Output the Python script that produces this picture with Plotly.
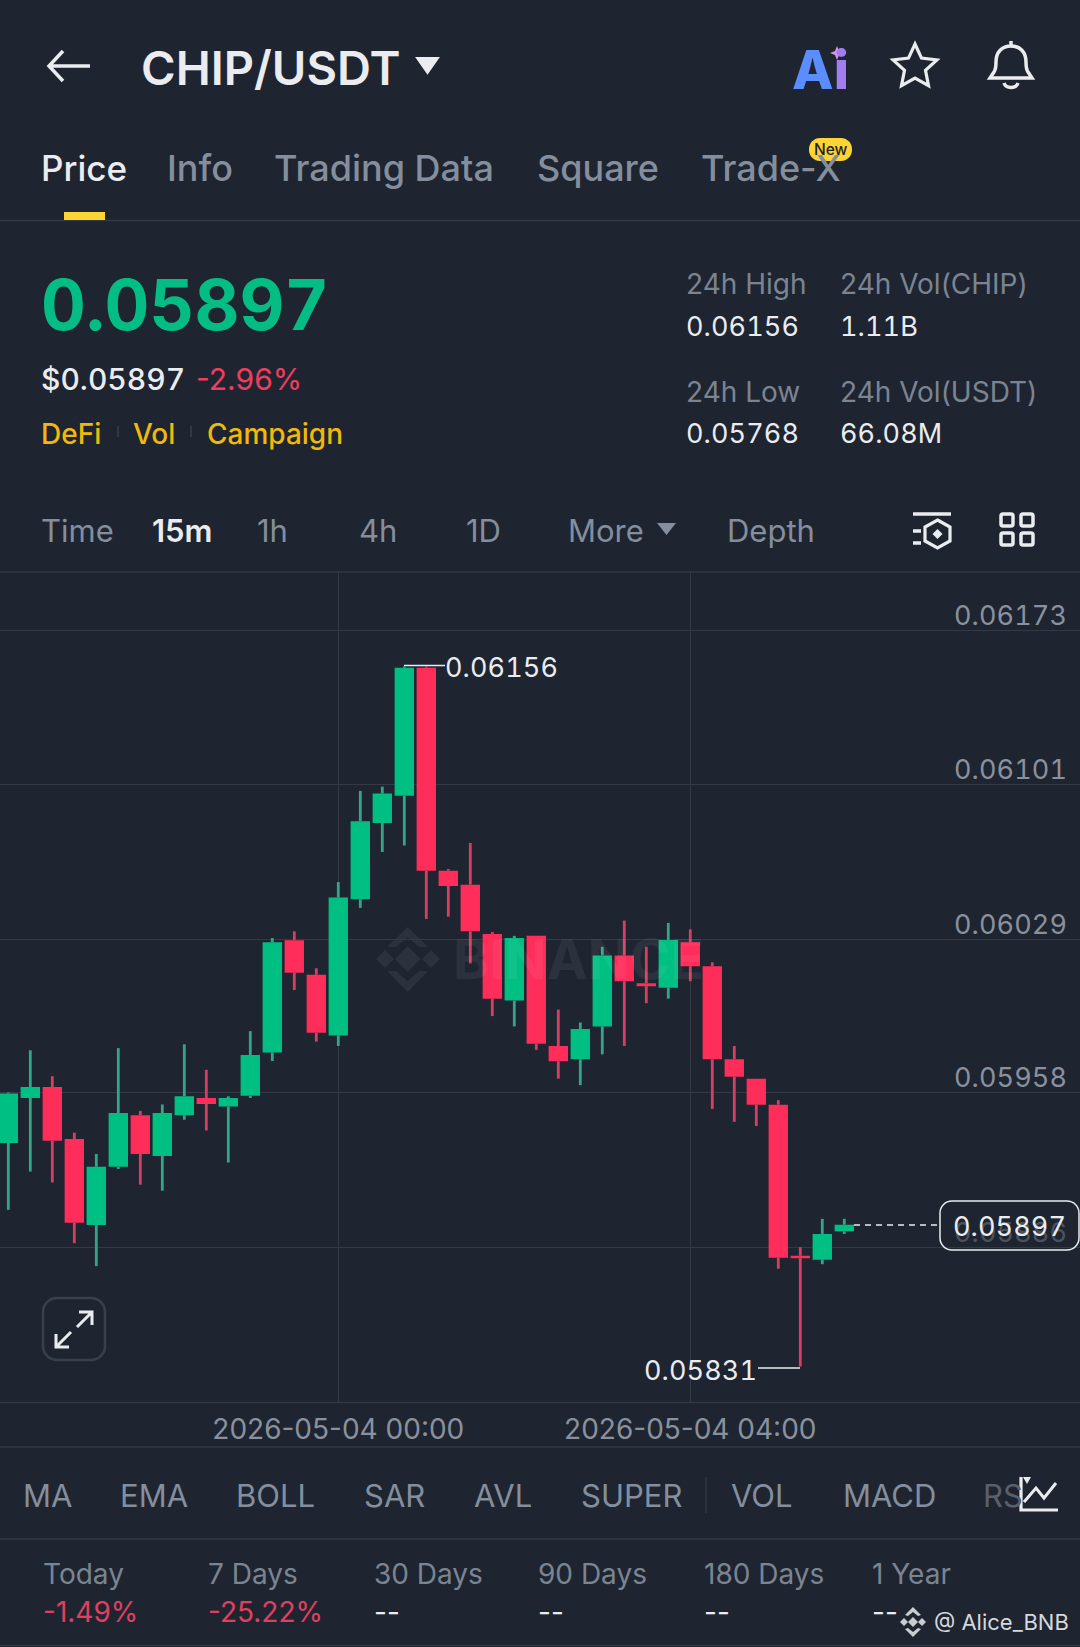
import re
import pandas as pd
import plotly.graph_objects as go

# ---------- data (prices) ----------
times = pd.date_range("2026-05-03 20:15", periods=39, freq="15min")
open_ = [0.059345,0.059554,0.059605,0.059363,0.058963,0.059234,0.059474,0.059284,0.059474,0.059554,
         0.059514,0.059564,0.059766,0.060288,0.060127,0.059845,0.060478,0.060833,0.060960,0.061555,
         0.060611,0.060546,0.060317,0.060007,0.060308,0.059796,0.059734,0.059887,0.060217,0.060088,
         0.060067,0.060278,0.060167,0.059734,0.059644,0.059523,0.058820,0.058802,0.058934]
high_ = [0.059580,0.059776,0.059655,0.059393,0.059294,0.059786,0.059494,0.059524,0.059804,0.059685,
         0.059562,0.059865,0.060298,0.060329,0.060157,0.060558,0.060982,0.061002,0.061560,0.061560,
         0.060619,0.060740,0.060326,0.060308,0.060308,0.059965,0.059905,0.060257,0.060379,0.060257,
         0.060368,0.060338,0.060185,0.059796,0.059644,0.059544,0.058860,0.058992,0.058992]
low_  = [0.059034,0.059212,0.059161,0.058879,0.058772,0.059224,0.059151,0.059123,0.059453,0.059403,
         0.059254,0.059554,0.059726,0.060056,0.059816,0.059796,0.060438,0.060698,0.060728,0.060387,
         0.060397,0.060180,0.059935,0.059887,0.059778,0.059644,0.059614,0.059757,0.059796,0.059995,
         0.060016,0.060097,0.059503,0.059443,0.059424,0.058760,0.058305,0.058781,0.058922]
close_ = [0.059575,0.059605,0.059355,0.058974,0.059234,0.059484,0.059294,0.059484,0.059562,0.059526,
          0.059554,0.059754,0.060278,0.060137,0.059857,0.060486,0.060841,0.060970,0.061555,0.060611,
          0.060540,0.060329,0.060016,0.060298,0.059806,0.059725,0.059875,0.060217,0.060097,0.060074,
          0.060289,0.060167,0.059734,0.059653,0.059523,0.058811,0.058809,0.058922,0.058965]
price_ticks = [0.06173, 0.06101, 0.06029, 0.05958, 0.05886, 0.05814]
price_text = ["0.06173", "0.06101", "0.06029", "0.05958", "0.05886", "0.05814"]
time_ticks = ["2026-05-04 00:00", "2026-05-04 04:00"]
high_label, low_label, last_label = "0.06156", "0.05831", "0.05897"
tabs = ["Price", "Info", "Trading Data", "Square", "Trade-X"]
intervals = ["Time", "15m", "1h", "4h", "1D", "More", "Depth"]
indicators = ["MA", "EMA", "BOLL", "SAR", "AVL", "SUPER", "VOL", "MACD", "RS"]
periods = ["Today", "7 Days", "30 Days", "90 Days", "180 Days", "1 Year"]
period_values = ["-1.49%", "-25.22%", "--", "--", "--", "--"]

# ---------- style ----------
W, H = 1080, 1647
FONT = "Inter"
BG = "#1e2531"
GRID = "#333a46"
GREEN, RED = "#00bf83", "#ff2d5a"
GREEN_W, RED_W = "#34a586", "#d63f62"
GREY = "#848e9c"
WHITE = "#eaecef"
YEL = "#f0b90b"
AXG = "#8a919d"

def X(v): return v / W
def Y(v): return 1 - v / H

def num(s, ls=0.0, color=None):
    st = f"font-variant-numeric:tabular-nums;letter-spacing:{ls}px"
    if color:
        st += f";fill:{color}"
    return f"<span style='{st}'>{s}</span>"

def P(cmd):
    out, i = [], 0
    def rep(m):
        nonlocal i
        v = float(m.group())
        r = X(v) if i % 2 == 0 else Y(v)
        i += 1
        return f"{r:.6f}"
    return re.sub(r"-?\d+\.?\d*", rep, cmd)

shapes, anns = [], []

def path(cmd, fill=None, line=None, w=0, layer="above", dash=None):
    ln = dict(color=line if line else "rgba(0,0,0,0)", width=w)
    if dash:
        ln["dash"] = dash
    shapes.append(dict(type="path", xref="paper", yref="paper", path=P(cmd), layer=layer,
                       fillcolor=fill if fill else "rgba(0,0,0,0)", line=ln))

def rr(x0, y0, x1, y1, r):
    c = r * 0.45
    return (f"M {x0+r} {y0} L {x1-r} {y0} C {x1-c} {y0} {x1} {y0+c} {x1} {y0+r} L {x1} {y1-r} "
            f"C {x1} {y1-c} {x1-c} {y1} {x1-r} {y1} L {x0+r} {y1} C {x0+c} {y1} {x0} {y1-c} {x0} {y1-r} "
            f"L {x0} {y0+r} C {x0} {y0+c} {x0+c} {y0} {x0+r} {y0} Z")

def t(text, x, y, size, color, anchor="left", weight=400):
    if anchor == "left":
        x -= 2
    anns.append(dict(text=text, x=X(x), y=Y(y), xref="paper", yref="paper", xanchor=anchor, yanchor="middle",
                     showarrow=False, borderpad=0,
                     font=dict(family=FONT, size=size, color=color, weight=weight)))

# separators
for yy in [220.5, 572, 1402.5, 1447, 1539, 1645.5]:
    path(f"M 0 {yy} L 1080 {yy}", line="#323945", w=1.5, layer="below")

# header
path("M 90 66 L 50 66 M 63 51 L 49 66 L 63 81", line=WHITE, w=3.5)
t("CHIP/USDT", 142, 67, 47, WHITE, weight=600)
path("M 417 58 L 438 58 L 427.5 73 Z", fill=WHITE, line=WHITE, w=2)
t("<span style='fill:#5c8dff'>A</span><span style='fill:#a27df0'>i</span>", 793, 69, 54, "#5c8dff", weight=800)
path("M 837 46 L 839 51 L 844 53 L 839 55 L 837 60 L 835 55 L 830 53 L 835 51 Z", fill="#dc8ff0")
path("M 915 44 L 921.5 58.1 L 936.9 59.9 L 925.5 70.4 L 928.5 85.6 L 915 78 L 901.5 85.6 L 904.5 70.4 "
     "L 893.1 59.9 L 908.5 58.1 Z", line=WHITE, w=3.2)
path("M 990 78 L 994 72 C 996 69 996 66 996 62 C 996 52 1002 46 1011 46 C 1020 46 1026 52 1026 62 "
     "C 1026 66 1026 69 1028 72 L 1032 78 Z M 1011 41 L 1011 46 M 1004 83 C 1006 89 1016 89 1018 83",
     line=WHITE, w=3.5)

# tabs
t(tabs[0], 42, 168, 35, WHITE, weight=500)
for s, x in zip(tabs[1:], [168, 275, 538, 702]):
    t(s, x, 168, 36, GREY, weight=500)
path(rr(809, 138, 852, 161, 11), fill="#fcd535")
t("New", 830.5, 149.5, 15.5, "#1e2329", "center", 500)
path("M 64 212 L 105 212 L 105 220 L 64 220 Z", fill="#fcd535")

# price block
t(num(last_label), 42, 305, 69.5, "#03bd84", weight=700)
t("$" + num(last_label), 42, 379, 30, WHITE, weight=500)
t("-2.96%", 197, 379, 30, "#ee3d5e", weight=400)
t("DeFi", 42, 434, 28, YEL, weight=500)
t("Vol", 134, 434, 28, YEL, weight=500)
t("Campaign", 208, 434, 28, YEL, weight=500)
path("M 118 426 L 118 437 M 191 426 L 191 437", line="#3a404b", w=1.5)
for (lab, val, x, y0) in [("24h High", "0.06156", 687, 284), ("24h Vol(CHIP)", "1.11B", 841, 284),
                          ("24h Low", "0.05768", 687, 392), ("24h Vol(USDT)", "66.08M", 841, 392)]:
    t(lab, x, y0, 28, "#7b8491")
    t(num(val, 0.1), x, y0 + 42, 27, WHITE)

# interval row
for s, x, c, wt in zip(intervals, [42, 153, 258, 360, 467, 569, 728],
                       [GREY, WHITE, GREY, GREY, GREY, GREY, GREY], [400, 600, 400, 400, 400, 400, 400]):
    t(s, x, 530, 31, c, weight=wt)
path("M 657 523 L 676 523 L 666.5 535 Z", fill=GREY)
path("M 913 514 L 951 514 M 913 531 L 921 531 M 913 543 L 921 543", line=WHITE, w=3.5)
path("M 937.5 520 L 950 527 L 950 541 L 937.5 548 L 925 541 L 925 527 Z", line=WHITE, w=3.2)
path("M 937.5 529 L 942.5 534 L 937.5 539 L 932.5 534 Z", fill=WHITE)
for a, b in [(1001, 514), (1021, 514), (1001, 533), (1021, 533)]:
    path(rr(a, b, a + 12, b + 12, 2), line=WHITE, w=3.5)

# watermark
WM = "#2b323e"
path("M 407.7 946 L 420.7 959 L 407.7 972 L 394.7 959 Z", fill=WM, layer="below")
path("M 385 950 L 394 959 L 385 968 L 376 959 Z", fill=WM, layer="below")
path("M 431 950 L 440 959 L 431 968 L 422 959 Z", fill=WM, layer="below")
path("M 407.7 927 L 428 947 L 419 947 L 407.7 937 L 396 947 L 387 947 Z", fill=WM, layer="below")
path("M 407.7 992 L 428 971 L 419 971 L 407.7 981 L 396 971 L 387 971 Z", fill=WM, layer="below")
t("BINANCE", 578, 959, 55, "rgba(255,255,255,0.06)", "center", 700)

# high / low / last markers
path("M 404 665.5 L 445 665.5", line=WHITE, w=1.5)
t(num(high_label, 0.1), 446, 667, 27, WHITE)
path("M 758 1368 L 800 1368", line=WHITE, w=1.5)
t(num(low_label, 0.1), 758, 1370, 27, WHITE, "right")
path("M 854 1225 L 938 1225", line=WHITE, w=1.3, dash="6px,5px")
path(rr(940, 1201, 1079, 1250, 12), line=WHITE, w=1.5)
t(num(last_label, 0.1), 1067, 1226, 27, WHITE, "right")

# expand button
path(rr(43, 1298, 105, 1360, 14), line="#3a404b", w=2.5)
path("M 56 1334 L 56 1347 L 69 1347 M 56 1347 L 71 1332 M 79 1312 L 92 1312 L 92 1325 M 92 1312 L 77 1327",
     line=WHITE, w=3)

# indicators row
for s, x, c in zip(indicators, [24, 121, 237, 365, 475, 582, 732, 844, 984],
                   [GREY] * 8 + ["#59606c"]):
    t(s, x, 1495, 31, c)
path("M 706 1477 L 706 1513", line="#323945", w=1.5)
path("M 1021 1477 L 1021 1510 L 1058 1510", line=WHITE, w=3.2)
path("M 1024 1502 L 1036 1488 L 1044 1498 L 1056 1483", line=WHITE, w=3)
path("M 1023 1477 L 1031 1477 L 1027 1484 Z", fill=WHITE)

# periods row
for s, v, x in zip(periods, period_values, [44, 209, 375, 539, 705, 873]):
    t(s, x, 1574, 28, "#7b8491")
    t(v, x, 1612, 28, "#e0405f" if v != "--" else WHITE)

# author mark
WC = "#c9ccd1"
path("M 913 1617 L 918 1622 L 913 1627 L 908 1622 Z", fill=WC)
path("M 904 1618 L 908 1622 L 904 1626 L 900 1622 Z", fill=WC)
path("M 922 1618 L 926 1622 L 922 1626 L 918 1622 Z", fill=WC)
path("M 913 1607 L 921 1615 L 918 1616 L 913 1612 L 908 1616 L 905 1615 Z", fill=WC)
path("M 913 1637 L 921 1629 L 918 1628 L 913 1632 L 908 1628 L 905 1629 Z", fill=WC)
t("@ Alice_BNB", 935, 1622, 22, "#d5d8dc")

# ---------- traces ----------
def wicks(up):
    xs, ys = [], []
    for d, o, h, l, c in zip(times, open_, high_, low_, close_):
        if (c >= o) != up:
            continue
        top, bot = max(o, c), min(o, c)
        xs += [d, d, None, d, d, None]
        ys += [h, top, None, bot, l, None]
    return xs, ys

fig = go.Figure()
fig.add_trace(go.Candlestick(x=times, open=open_, high=high_, low=low_, close=close_,
                             increasing=dict(fillcolor=GREEN, line=dict(color=GREEN, width=0)),
                             decreasing=dict(fillcolor=RED, line=dict(color=RED, width=0)),
                             hoverinfo="skip", showlegend=False))
for up, col in [(True, GREEN_W), (False, RED_W)]:
    xs, ys = wicks(up)
    fig.add_trace(go.Scatter(x=xs, y=ys, mode="lines", line=dict(color=col, width=2.8),
                             hoverinfo="skip", showlegend=False))

price_labels = [num(s, 0.1, "#4b525e" if s == "0.05886" else None) for s in price_text]

fig.update_layout(
    width=W, height=H, margin=dict(l=0, r=0, t=0, b=0), autosize=False,
    paper_bgcolor=BG, plot_bgcolor=BG, boxgap=0.12, boxgroupgap=0, showlegend=False,
    font=dict(family=FONT), shapes=shapes, annotations=anns,
    xaxis=dict(type="date", range=["2026-05-03 20:09:20", "2026-05-04 08:25:43"], domain=[0, 1],
               rangeslider=dict(visible=False), tickvals=time_ticks, tickformat="%Y-%m-%d %H:%M",
               showgrid=True, gridcolor=GRID, gridwidth=1, zeroline=False, ticks="", showline=False,
               tickfont=dict(family=FONT, size=28, color=AXG), ticklabelstandoff=7, automargin=False),
    yaxis=dict(range=[0.058138, 0.0620], domain=[1 - 1402.5 / H, 1 - 572 / H], side="right",
               ticklabelposition="inside", tickvals=price_ticks, ticktext=price_labels,
               showgrid=True, gridcolor=GRID, gridwidth=1, zeroline=False, ticks="", showline=False,
               tickfont=dict(family=FONT, size=27, color=AXG), ticklabelshift=-15, ticklabelstandoff=10,
               automargin=False),
)

fig.write_html("out.html", config=dict(displayModeBar=False),
               post_script="document.body.style.margin='0';document.documentElement.style.overflow='hidden';")
